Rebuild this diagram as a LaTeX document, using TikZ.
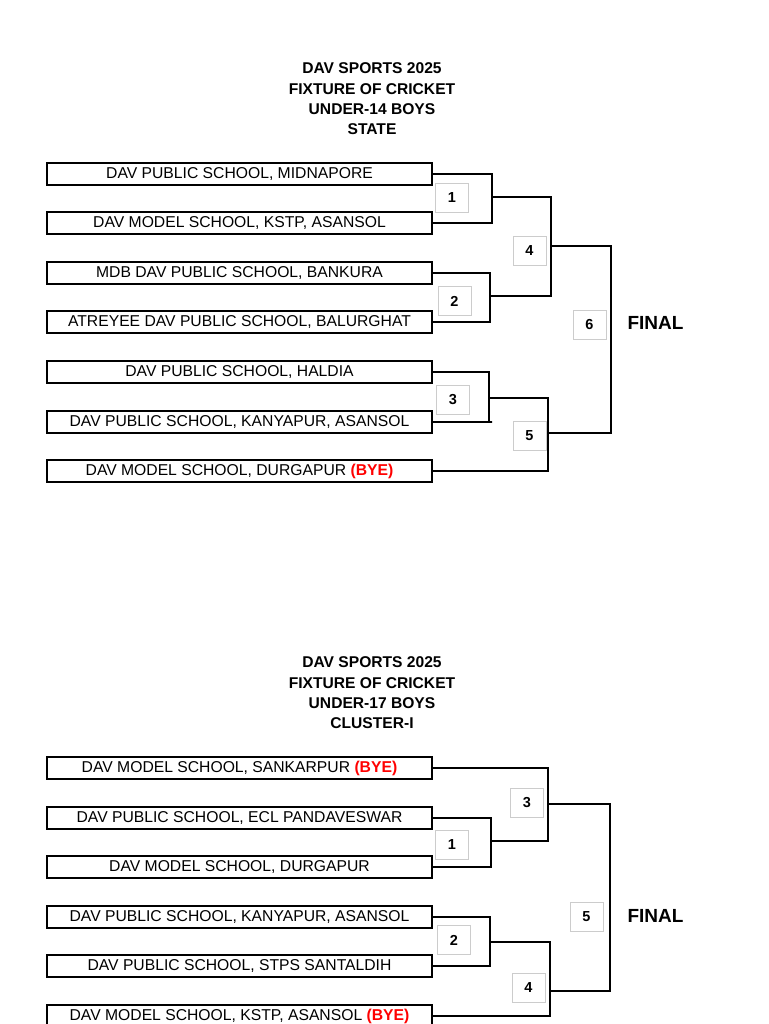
\documentclass[tikz,border=0pt]{standalone}
\usepackage{fontspec}
\setmainfont{Liberation Sans}
\usetikzlibrary{positioning}
\tikzset{
  team/.style={draw,line width=2.6pt,minimum width=385pt,minimum height=22pt,inner sep=0pt,font=\fontsize{15.7}{15.7}\selectfont},
  game/.style={draw=black!20,line width=0.8pt,minimum width=33pt,minimum height=29pt,inner sep=0pt,font=\bfseries\fontsize{14.5}{14.5}\selectfont},
  head/.style={font=\bfseries\fontsize{15.6}{15.6}\selectfont},
  final/.style={font=\bfseries\fontsize{19}{19}\selectfont,anchor=west},
  wire/.style={line width=1.5pt}
}
\newcommand{\bye}{ \textcolor{red}{\bfseries(BYE)}}
\begin{document}
\begin{tikzpicture}[x=1pt,y=-1pt]
\useasboundingbox (0,0) rectangle (768,1024);

% under-14 state
\node[head] (h1) at (372,68) {DAV SPORTS 2025};
\node[head] (h2) at (372,89) {FIXTURE OF CRICKET};
\node[head] (h3) at (372,109) {UNDER-14 BOYS};
\node[head] (h4) at (372,129) {STATE};

\node[team] (a1) at (239.5,174) {DAV PUBLIC SCHOOL, MIDNAPORE};
\node[team] (a2) at (239.5,223) {DAV MODEL SCHOOL, KSTP, ASANSOL};
\node[team] (a3) at (239.5,273) {MDB DAV PUBLIC SCHOOL, BANKURA};
\node[team] (a4) at (239.5,322) {ATREYEE DAV PUBLIC SCHOOL, BALURGHAT};
\node[team] (a5) at (239.5,372) {DAV PUBLIC SCHOOL, HALDIA};
\node[team] (a6) at (239.5,422) {DAV PUBLIC SCHOOL, KANYAPUR, ASANSOL};
\node[team] (a7) at (239.5,471) {DAV MODEL SCHOOL, DURGAPUR\bye};

\node[game] (g1) at (452,198) {1};
\node[game] (g2) at (454.5,301) {2};
\node[game] (g3) at (453,399.5) {3};
\node[game] (g4) at (529.5,251) {4};
\node[game] (g5) at (529.5,435.5) {5};
\node[game] (g6) at (589.5,324.5) {6};
\node[final] (f1) at (624,323) {FINAL};

\coordinate (m1) at (492,197);
\coordinate (m2) at (490,296);
\coordinate (m3) at (489,398);
\coordinate (m4) at (551,246);
\coordinate (m5) at (548,433);
\draw[wire] (a1.east) -| (m1) |- (a2.east);
\draw[wire] (a3.east) -| (m2) |- (a4.east);
\draw[wire] (a5.east) -| (m3) |- ([xshift=3pt]m3 |- a6.east) -- (a6.east);
\draw[wire] (m1) -| (m4) |- (m2);
\draw[wire] (m3) -| (m5) |- (a7.east);
\draw[wire] (m4) -| (611,340) |- (m5);

% under-17 cluster-i
\node[head] (k1) at (372,662) {DAV SPORTS 2025};
\node[head] (k2) at (372,683) {FIXTURE OF CRICKET};
\node[head] (k3) at (372,703) {UNDER-17 BOYS};
\node[head] (k4) at (372,723) {CLUSTER-I};

\node[team] (b1) at (239.5,768) {DAV MODEL SCHOOL, SANKARPUR\bye};
\node[team] (b2) at (239.5,818) {DAV PUBLIC SCHOOL, ECL PANDAVESWAR};
\node[team] (b3) at (239.5,867) {DAV MODEL SCHOOL, DURGAPUR};
\node[team] (b4) at (239.5,917) {DAV PUBLIC SCHOOL, KANYAPUR, ASANSOL};
\node[team] (b5) at (239.5,966) {DAV PUBLIC SCHOOL, STPS SANTALDIH};
\node[team] (b6) at (239.5,1016) {DAV MODEL SCHOOL, KSTP, ASANSOL\bye};

\node[game] (j1) at (452,844.5) {1};
\node[game] (j2) at (454,940) {2};
\node[game] (j3) at (527,803) {3};
\node[game] (j4) at (528.5,987.5) {4};
\node[game] (j5) at (586.5,916.5) {5};
\node[final] (f2) at (624,916) {FINAL};

\coordinate (n1) at (491,841);
\coordinate (n2) at (490,942);
\coordinate (n3) at (548,804);
\coordinate (n4) at (550,991);
\draw[wire] (b2.east) -| (n1) |- (b3.east);
\draw[wire] (b4.east) -| (n2) |- (b5.east);
\draw[wire] (b1.east) -| (n3) |- (n1);
\draw[wire] (n2) -| (n4) |- (b6.east);
\draw[wire] (n3) -| (610,900) |- (n4);
\end{tikzpicture}
\end{document}
